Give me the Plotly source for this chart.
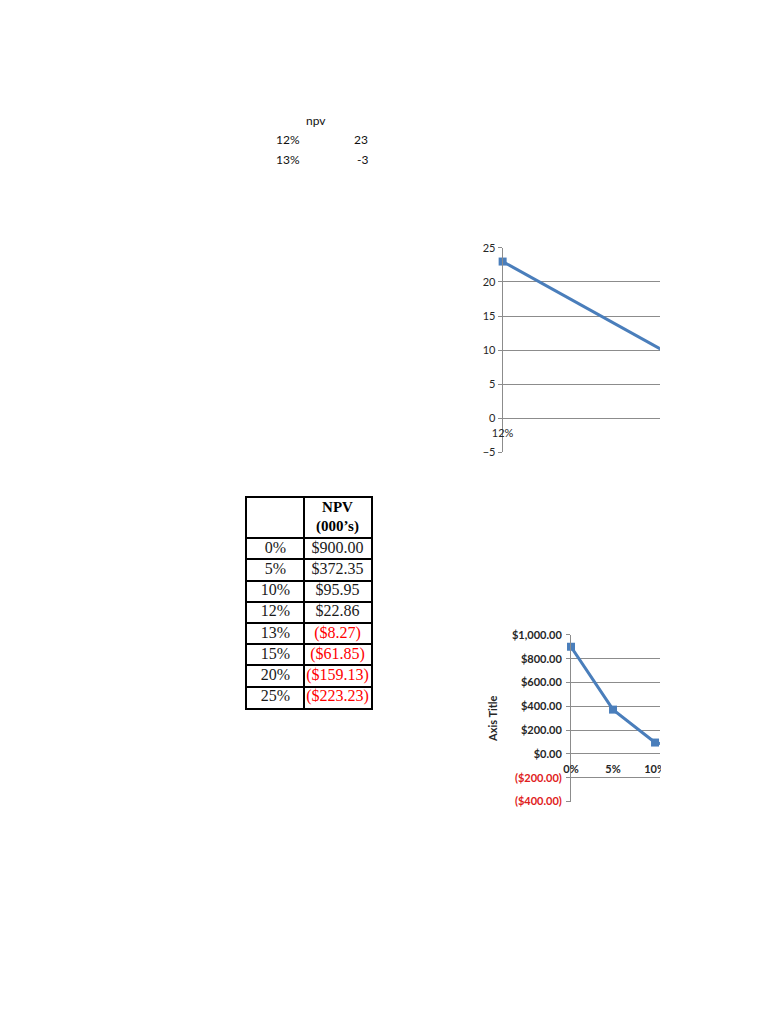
import plotly.graph_objects as go

# small sheet cells at the top
sheet_rates = ["12%", "13%"]
sheet_npv = [23, -3]

# NPV table (000's)
rates = ["0%", "5%", "10%", "12%", "13%", "15%", "20%", "25%"]
npv = [900.00, 372.35, 95.95, 22.86, -8.27, -61.85, -159.13, -223.23]

# tick values for the two little charts
small_ticks = [-5, 0, 5, 10, 15, 20, 25]
money_ticks = [-400, -200, 0, 200, 400, 600, 800, 1000]

# page body keeps an 8px margin; keep the figure small enough to avoid scrollbars
PAD = 8
W, H = 740, 1000
blue = "#4A7EBB"
grid = "#8C8C8C"


def px_x(x):
    return (x - PAD) / W


def px_y(y):
    return 1 - (y - PAD) / H


def money(v):
    if v < 0:
        return "(${:,.2f})".format(-v)
    return "${:,.2f}".format(v)


fig = go.Figure()

# chart 1: npv at 12% / 13%
fig.add_trace(go.Scatter(
    x=sheet_rates, y=sheet_npv, mode="lines+markers",
    line=dict(color=blue, width=3),
    marker=dict(symbol="square", size=8, color=blue),
    cliponaxis=False,
    xaxis="x", yaxis="y", showlegend=False,
))

# chart 2: NPV profile
fig.add_trace(go.Scatter(
    x=rates, y=npv, mode="lines+markers",
    line=dict(color=blue, width=3),
    marker=dict(symbol="square", size=8, color=blue),
    cliponaxis=False,
    xaxis="x2", yaxis="y2", showlegend=False,
))

# table, laid out on its own axes: x in px across, y in px down
col_w = [59, 68]
head_h, row_h = 41, 21.5
tab_w = sum(col_w)
tab_h = head_h + row_h * len(rates)
row_mid = [head_h + row_h * (i + 0.5) for i in range(len(rates))]
colors = ["#FF0000" if v < 0 else "#1a1a1a" for v in npv]
serif = dict(family="Liberation Serif", size=16)

fig.add_trace(go.Scatter(
    x=[col_w[0] / 2] * len(rates), y=row_mid, text=rates, mode="text",
    textfont=dict(color="#1a1a1a", **serif),
    xaxis="x3", yaxis="y3", showlegend=False, hoverinfo="skip",
))
fig.add_trace(go.Scatter(
    x=[col_w[0] + col_w[1] / 2] * len(npv), y=row_mid,
    text=[money(v) for v in npv], mode="text",
    textfont=dict(color=colors, **serif),
    xaxis="x3", yaxis="y3", showlegend=False, hoverinfo="skip",
))
fig.add_trace(go.Scatter(
    x=[col_w[0] + col_w[1] / 2], y=[head_h / 2],
    text=["<b>NPV</b><br><b>(000’s)</b>"], mode="text",
    textfont=dict(family="Liberation Serif", size=15, color="black"),
    xaxis="x3", yaxis="y3", showlegend=False, hoverinfo="skip",
))

y1_dom = [px_y(451), px_y(244)]
y2_dom = [px_y(805), px_y(636)]
y1_zero = y1_dom[0] + (0 - (-5)) / 30 * (y1_dom[1] - y1_dom[0])
y2_zero = y2_dom[0] + (0 - (-400)) / 1400 * (y2_dom[1] - y2_dom[0])

money_text = []
for t in money_ticks:
    if t < 0:
        money_text.append('<span style="color:#E02020"><b>' + money(t) + "</b></span>")
    else:
        money_text.append("<b>" + money(t) + "</b>")

tick_font = dict(family="Lato", size=11, color="#262626")
row_lines = [head_h + row_h * i for i in range(len(rates))]

fig.update_layout(
    width=W, height=H,
    margin=dict(l=0, r=0, t=0, b=0),
    paper_bgcolor="white", plot_bgcolor="white",
    font=dict(family="Lato", size=11, color="#262626"),
    xaxis=dict(
        domain=[px_x(503), px_x(664)], range=[0, 161 / 327],
        anchor="free", position=y1_zero,
        showgrid=False, showline=False, zeroline=False,
        ticks="outside", ticklen=5, tickcolor="rgba(0,0,0,0)", tickfont=tick_font,
    ),
    yaxis=dict(
        domain=y1_dom, range=[-5, 25], tickvals=small_ticks,
        showgrid=True, gridcolor=grid, gridwidth=1,
        showline=True, linecolor=grid, ticks="outside", ticklen=4, tickcolor=grid,
        zeroline=False, tickfont=tick_font, anchor="x",
    ),
    xaxis2=dict(
        domain=[px_x(573), px_x(664)], range=[0, 91 / 43],
        anchor="free", position=y2_zero,
        showgrid=False, showline=False, zeroline=False,
        ticks="outside", ticklen=5, tickcolor="rgba(0,0,0,0)",
        tickfont=dict(family="Lato", size=11, color="#262626", weight="bold"),
    ),
    yaxis2=dict(
        domain=y2_dom, range=[-400, 1000],
        tickvals=money_ticks, ticktext=money_text,
        showgrid=True, gridcolor=grid, gridwidth=1,
        showline=True, linecolor=grid, ticks="outside", ticklen=4, tickcolor=grid,
        ticklabelstandoff=2,
        zeroline=False, tickfont=tick_font, anchor="x2",
        title=dict(text="<b>Axis Title</b>", standoff=12,
                   font=dict(family="Lato", size=11, color="#262626")),
    ),
    xaxis3=dict(
        domain=[px_x(241), px_x(241 + tab_w)], range=[0, tab_w],
        tickvals=[col_w[0]], showticklabels=False, ticks="",
        showgrid=True, gridcolor="black", gridwidth=2, zeroline=False,
        showline=True, mirror=True, linecolor="black", linewidth=2,
        anchor="y3", fixedrange=True,
    ),
    yaxis3=dict(
        domain=[px_y(497 + tab_h), px_y(497)], range=[tab_h, 0],
        tickvals=row_lines, showticklabels=False, ticks="",
        showgrid=True, gridcolor="black", gridwidth=2, zeroline=False,
        showline=True, mirror=True, linecolor="black", linewidth=2,
        anchor="x3", fixedrange=True,
    ),
    shapes=[
        # the chart object ends at its right edge, hiding the rest of the axis
        dict(type="rect", xref="paper", yref="paper", layer="above",
             x0=px_x(665), x1=1, y0=px_y(830), y1=px_y(620),
             fillcolor="white", line=dict(width=0)),
    ],
)

# sheet cells at the top
annotations = [dict(text="npv", x=px_x(312), y=px_y(115), xanchor="center")]
for i, (r, v) in enumerate(zip(sheet_rates, sheet_npv)):
    yy = px_y(134 + i * 20)
    annotations.append(dict(text=r, x=px_x(298), y=yy, xanchor="right"))
    annotations.append(dict(text=str(v), x=px_x(367), y=yy, xanchor="right"))
for a in annotations:
    a.update(xref="paper", yref="paper", yanchor="middle", showarrow=False,
             font=dict(family="Lato", size=12, color="#111111"))
fig.update_layout(annotations=annotations)

fig.write_html("out.html")
